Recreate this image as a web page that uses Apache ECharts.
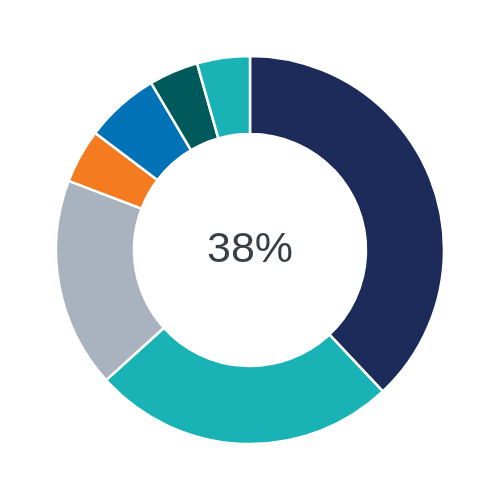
<!DOCTYPE html>
<html>
<head>
<meta charset="utf-8">
<script src="https://cdn.jsdelivr.net/npm/echarts@6/dist/echarts.min.js"></script>
<style>html,body{margin:0;padding:0;background:#fff;}#c{width:500px;height:500px;}</style>
</head>
<body>
<div id="c"></div>
<script>
const categories = ['A', 'B', 'C', 'D', 'E', 'F', 'G'];
const values = [38, 25.3, 17.5, 4.5, 6.2, 4.1, 4.4];
const colors = ['#1c2b5a', '#1ab3b5', '#a9b3c0', '#f47b20', '#0072b5', '#005a5b', '#1ab3b5'];
const centerLabel = '38%';

const chart = echarts.init(document.getElementById('c'));
chart.setOption({
  animation: false,
  title: {
    text: centerLabel,
    left: 'center',
    top: 'middle',
    textStyle: { fontFamily: 'Liberation Sans, Arial, sans-serif', fontSize: 43, fontWeight: 'normal', color: '#3a3f47' }
  },
  series: [{
    type: 'pie',
    center: [250, 250],
    radius: [116, 194],
    startAngle: 90,
    clockwise: true,
    label: { show: false },
    labelLine: { show: false },
    itemStyle: { borderColor: '#fff', borderWidth: 2.5 },
    data: categories.map((c, i) => ({ name: c, value: values[i], itemStyle: { color: colors[i] } }))
  }]
});
</script>
</body>
</html>
